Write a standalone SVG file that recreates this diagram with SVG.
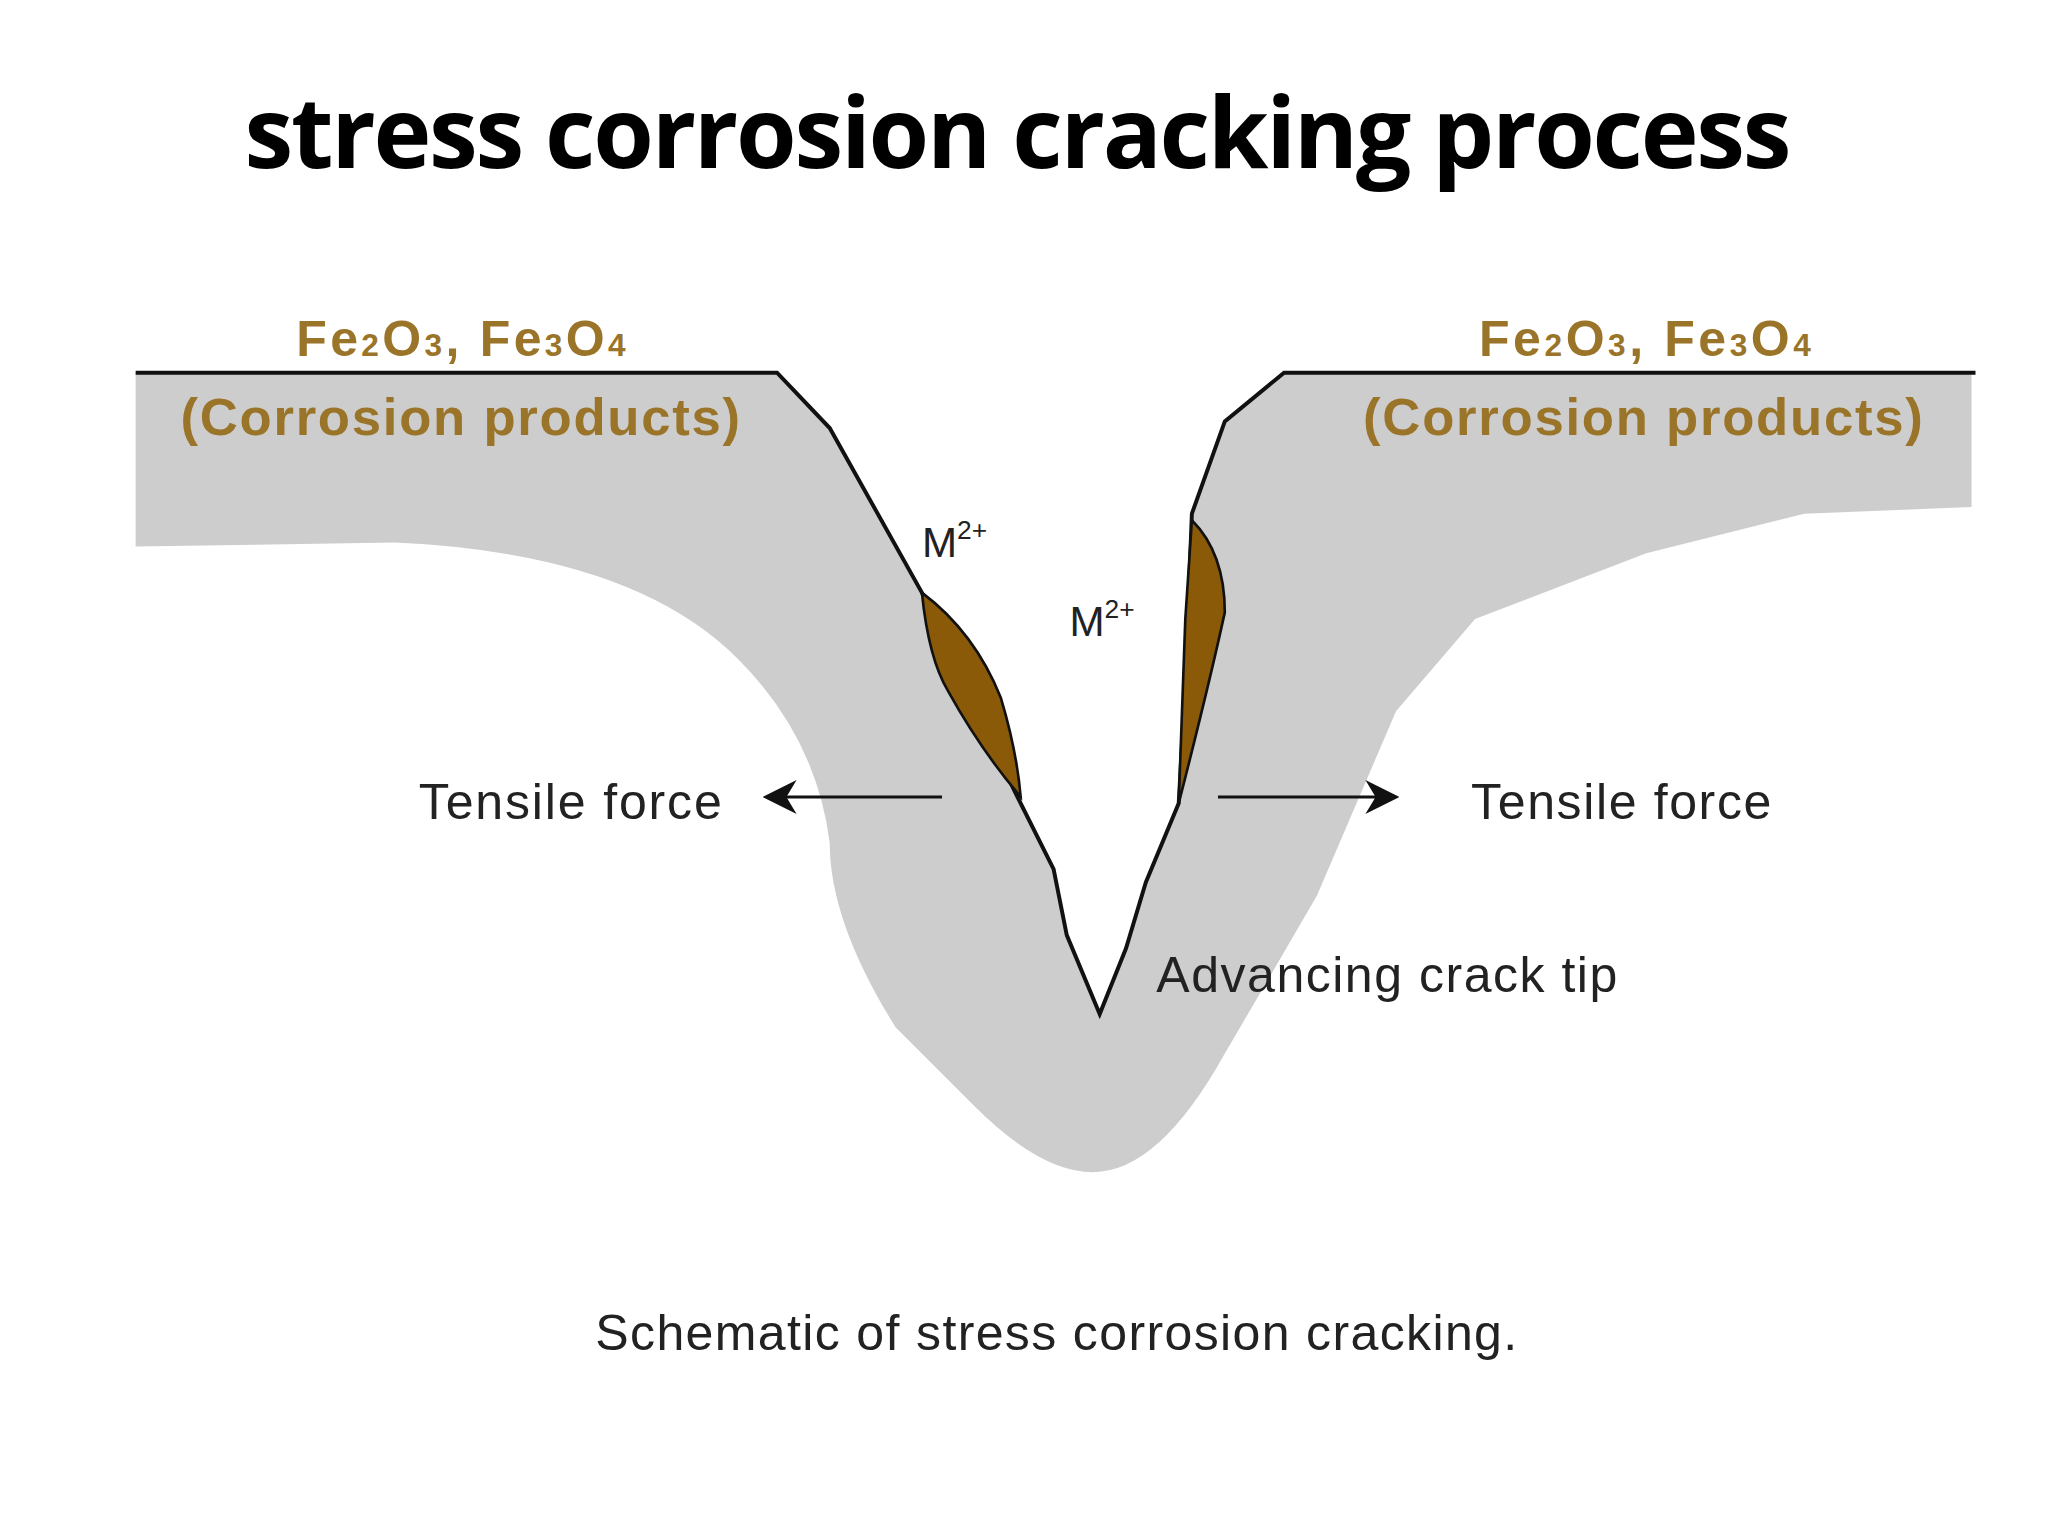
<svg xmlns="http://www.w3.org/2000/svg" width="2048" height="1536" viewBox="0 0 2048 1536">
<style>
.t{font-family:"Liberation Sans",Arial,sans-serif;fill:#222}
.b{font-family:"Liberation Sans",Arial,sans-serif;font-weight:bold;fill:#9a7428}
.ln{fill:none;stroke:#111;stroke-width:3}
</style>
<defs><marker id="ah" viewBox="0 0 10 10" refX="9" refY="5" markerUnits="userSpaceOnUse" markerWidth="34" markerHeight="34" orient="auto"><path d="M0,0L10,5L0,10L3,5z" fill="#111"/></marker></defs>
<rect width="2048" height="1536" fill="#fff"/>
<text x="1018" y="168" text-anchor="middle" font-family="'Open Sans','Liberation Sans',sans-serif" font-weight="bold" font-size="98" textLength="1547" fill="#000">stress corrosion cracking process</text>
<g transform="scale(1.317)">
<g id="metal">
<path d="M103,283 L590,283 L630,325 L700,450 L770,600 L800,660 L810,710 L835,770 L855,720 L870,670 L895,610 L900,520 L905,390 L930,320 L975,283 L1497,283 L1497,385 L1370,390 L1250,420 L1120,470 L1060,540 L1000,680 L930,800 Q880,890 830,890 Q790,890 740,840 L680,780 Q630,700 630,640 Q620,560 560,500 Q480,420 300,412 L103,415 Z" fill="#cdcdcd"/>
<path class="ln" d="M103,283 L590,283 L630,325 L700,450 L770,600 L800,660 L810,710 L835,770 L855,720 L870,670 L895,610 L900,520 L905,390 L930,320 L975,283 L1500,283"/>
</g>
<g id="deposits" fill="#8a5a08" stroke="#111" stroke-width="2">
<path d="M700,450 Q740,480 760,530 Q772,570 775,605 Q745,570 720,525 Q705,500 700,450Z"/>
<path d="M905,395 Q930,420 930,465 Q918,520 895,610 Q898,520 900,470 Z"/>
</g>
<g id="labels">
<text class="b" x="225" y="270" font-size="38" textLength="250">Fe<tspan font-size="24">2</tspan>O<tspan font-size="24">3</tspan>, Fe<tspan font-size="24">3</tspan>O<tspan font-size="24">4</tspan></text>
<text class="b" x="137" y="330" font-size="40" textLength="425">(Corrosion products)</text>
<text class="b" x="1123" y="270" font-size="38" textLength="252">Fe<tspan font-size="24">2</tspan>O<tspan font-size="24">3</tspan>, Fe<tspan font-size="24">3</tspan>O<tspan font-size="24">4</tspan></text>
<text class="b" x="1035" y="330" font-size="40" textLength="425">(Corrosion products)</text>
<text class="t" x="700" y="423" font-size="32">M<tspan font-size="20" dy="-14">2+</tspan></text>
<text class="t" x="812" y="483" font-size="32">M<tspan font-size="20" dy="-14">2+</tspan></text>
<text class="t" x="318" y="622" font-size="38" textLength="230">Tensile force</text>
<text class="t" x="1117" y="622" font-size="38" textLength="228">Tensile force</text>
<text class="t" x="878" y="753" font-size="38" textLength="350">Advancing crack tip</text>
<text class="t" x="452" y="1025" font-size="38" textLength="700">Schematic of stress corrosion cracking.</text>
</g>
</g>
<g id="connectors" class="ln" stroke-width="4">
<path d="M942,797 L766,797" marker-end="url(#ah)"/>
<path d="M1218,797 L1396,797" marker-end="url(#ah)"/>
</g>
</svg>
